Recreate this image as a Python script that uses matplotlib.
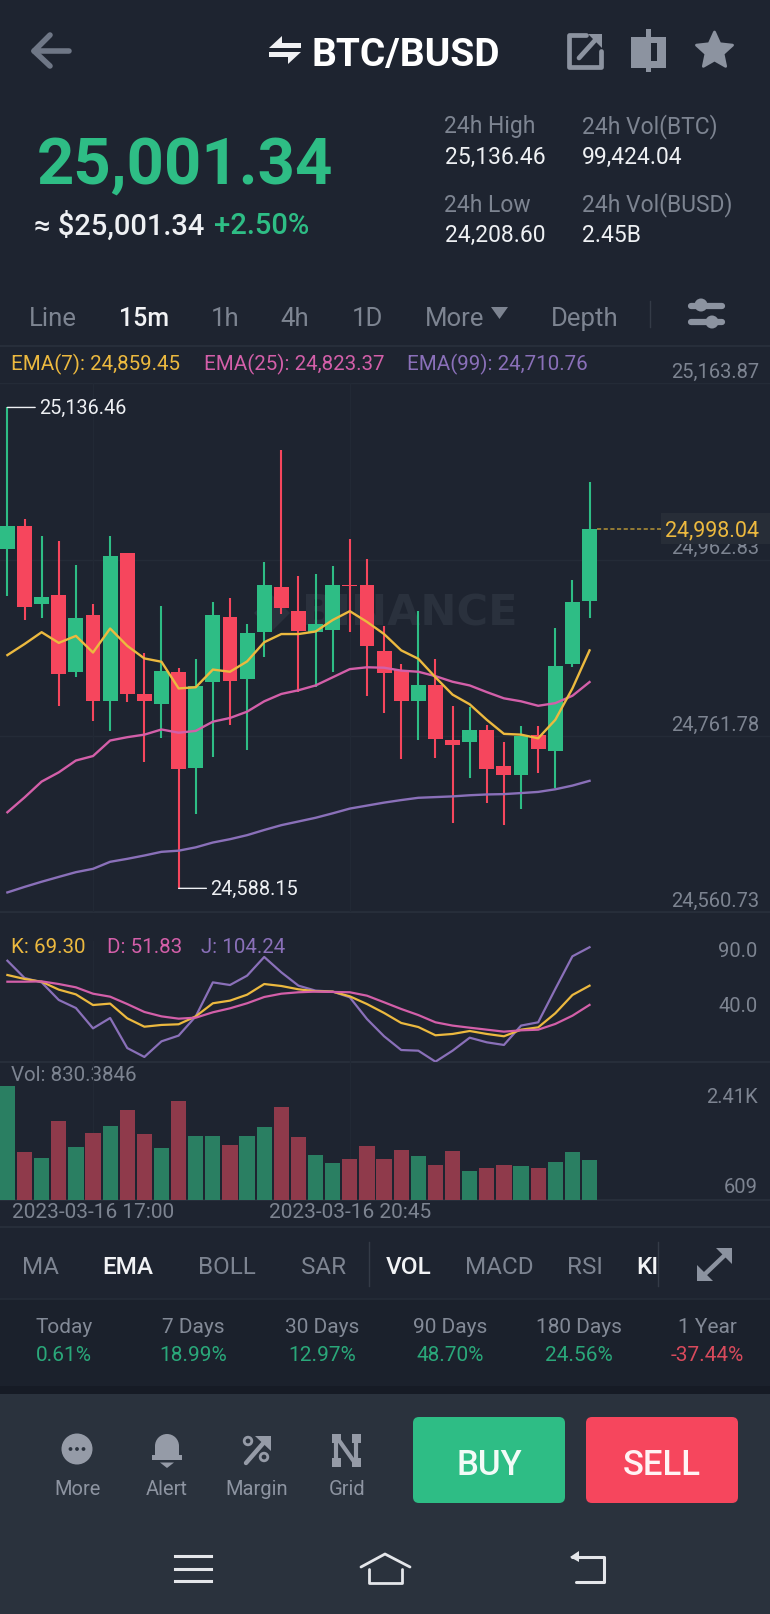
#!/usr/bin/env python3

import numpy as n
import matplotlib
matplotlib.use("Agg")
import matplotlib.pyplot as plt
from matplotlib.patches import Rectangle, Circle, Polygon, FancyBboxPatch

plt.rcParams["font.family"] = ["Roboto", "DejaVu Sans"]

# candles
opens = [24975.0, 25001.6, 24911.8, 24922.8, 24834.3, 24900.0, 24801.4, 24970.0, 24809.8, 24798.0,
         24835.1, 24725.5, 24823.3, 24897.9, 24826.7, 24880.2, 24932.0, 24904.2, 24880.2, 24882.3,
         24933.7, 24934.2, 24859.1, 24837.2, 24801.4, 24819.5, 24757.5, 24754.6, 24768.9, 24727.6,
         24717.1, 24763.4, 24744.9, 24843.5, 24916.0]
closes = [25001.6, 24908.9, 24920.7, 24832.6, 24896.6, 24801.4, 24967.4, 24809.8, 24801.4, 24835.9,
          24724.6, 24819.1, 24899.6, 24824.6, 24879.0, 24934.2, 24908.0, 24881.5, 24889.5, 24934.2,
          24932.5, 24865.0, 24833.4, 24801.4, 24819.5, 24758.0, 24751.2, 24768.9, 24723.8, 24717.5,
          24761.3, 24746.6, 24841.9, 24914.8, 24998.04]
highs = [25136.46, 25008.8, 24990.2, 24984.7, 24957.3, 24911.8, 24990.2, 24970.8, 24857.0, 24910.1,
         24839.3, 24849.9, 24915.2, 24919.4, 24889.9, 24960.3, 25088.0, 24943.9, 24946.4, 24955.6,
         24986.0, 24963.2, 24887.8, 24843.5, 24904.6, 24849.9, 24796.3, 24795.1, 24774.0, 24755.0,
         24772.7, 24773.1, 24884.8, 24939.6, 25050.9]
lows = [24921.5, 24894.1, 24896.2, 24796.3, 24829.6, 24779.5, 24767.7, 24800.5, 24731.8, 24759.2,
        24588.15, 24672.8, 24738.2, 24774.0, 24745.8, 24852.0, 24900.4, 24811.9, 24817.4, 24835.1,
        24880.2, 24807.3, 24787.9, 24736.0, 24757.1, 24737.3, 24663.1, 24713.7, 24685.0, 24660.2,
        24679.1, 24719.2, 24702.3, 24841.0, 24896.2]

ema7 = [24854.1, 24866.7, 24880.2, 24868.0, 24876.0, 24857.0, 24884.4, 24864.6, 24850.3, 24846.5,
        24816.1, 24817.4, 24837.6, 24835.1, 24846.9, 24868.8, 24878.1, 24878.1, 24881.0, 24894.1,
        24904.2, 24892.0, 24878.1, 24859.5, 24849.9, 24828.8, 24809.0, 24798.0, 24780.3, 24764.3,
        24763.4, 24759.2, 24780.3, 24816.1, 24859.45]
ema25 = [24674.9, 24691.8, 24709.9, 24720.4, 24733.9, 24739.0, 24756.7, 24760.5, 24763.4, 24769.3,
         24765.6, 24767.7, 24778.2, 24782.4, 24789.6, 24801.4, 24809.8, 24814.0, 24819.5, 24828.8,
         24838.1, 24840.2, 24839.7, 24836.4, 24835.1, 24830.1, 24823.7, 24819.5, 24811.9, 24804.8,
         24801.4, 24796.3, 24799.3, 24807.7, 24823.37]
ema99 = [24583.5, 24589.8, 24595.7, 24601.2, 24606.6, 24610.4, 24618.4, 24621.8, 24625.6, 24629.8,
         24631.1, 24634.9, 24640.4, 24644.2, 24648.8, 24654.7, 24660.2, 24664.4, 24668.6, 24673.7,
         24679.1, 24682.5, 24685.9, 24688.8, 24691.4, 24692.2, 24693.0, 24694.3, 24695.2, 24695.6,
         24696.8, 24698.1, 24701.1, 24705.3, 24710.76]

k_line = [79.0, 75.4, 72.9, 65.7, 61.4, 51.7, 53.0, 39.6, 32.0, 33.6, 34.2, 41.4, 53.3, 55.7, 61.1,
          70.8, 69.0, 66.0, 64.2, 63.9, 59.6, 52.6, 44.5, 35.4, 31.7, 24.2, 25.4, 28.1, 25.4, 23.3,
          29.3, 31.4, 44.2, 60.8, 69.30]
d_line = [72.9, 72.9, 73.2, 70.8, 67.8, 62.0, 59.3, 52.6, 45.4, 41.4, 39.3, 40.2, 45.1, 48.7, 53.3,
          59.0, 62.0, 63.3, 63.9, 63.6, 63.3, 60.2, 54.2, 48.1, 42.6, 36.0, 33.0, 31.1, 29.3, 27.5,
          28.7, 29.3, 34.5, 42.0, 51.83]
j_line = [92.0, 76.3, 72.3, 56.3, 49.0, 30.5, 39.9, 12.6, 4.5, 18.7, 23.9, 41.4, 72.3, 69.9, 78.4,
          95.4, 81.4, 69.3, 64.8, 63.9, 58.7, 39.0, 23.3, 10.8, 10.2, 0.2, 10.2, 22.0, 17.8, 15.4,
          33.0, 36.0, 66.3, 96.0, 104.24]

volumes = [2374, 1003, 865, 1640, 1107, 1384, 1529, 1868, 1370, 1086, 2055, 1329, 1322, 1149, 1336,
           1522, 1924, 1315, 941, 768, 858, 1114, 851, 1045, 913, 720, 1024, 609, 657, 734, 713, 657,
           789, 997, 830.3846]

price_ticks = [25163.87, 24962.83, 24761.78, 24560.73]
kdj_ticks = [90.0, 40.0]
vol_ticks = [2410, 609]
vol_tick_labels = ["2.41K", "609"]
date_idx = [5, 20]
date_labels = ["2023-03-16 17:00", "2023-03-16 20:45"]

tabs = ["Line", "15m", "1h", "4h", "1D", "More", "Depth"]
ind_tabs = ["MA", "EMA", "BOLL", "SAR", "VOL", "MACD", "RSI"]
periods = ["Today", "7 Days", "30 Days", "90 Days", "180 Days", "1 Year"]
changes = ["0.61%", "18.99%", "12.97%", "48.70%", "24.56%", "-37.44%"]

W, H = 770.0, 1615.0
BG = "#1e2430"
GRID = "#242b37"
VGRID = "#222935"
GRAY = "#7d8491"
ICON = "#8c93a0"
GREEN = "#2ebd85"
RED = "#f6465d"
YEL = "#ecb93f"
PINK = "#d35fa9"
PUR = "#8a70b9"

fig = plt.figure(figsize=(7.7, 16.15), dpi=100, facecolor=BG)

# whole screen in pixels, for everything that is not chart
ui = fig.add_axes([0, 0, 1, 1])
ui.set_xlim(0, W)
ui.set_ylim(H, 0)
ui.axis("off")


def t(x, y, s, size, color, ha="center", weight="normal"):
    ui.text(x, y, s, fontsize=size, color=color, ha=ha, va="center", fontweight=weight)


def sep(y, color="#2a313d", lw=1.2):
    ui.plot([0, W], [y, y], color=color, lw=lw, solid_capstyle="butt")


def seg(xs, ys, color, lw=2.2):
    ui.plot(xs, ys, color=color, lw=lw, solid_capstyle="round", solid_joinstyle="round")


ui.add_patch(Rectangle((0, 1300), W, 88, color="#1b212c", lw=0))
ui.add_patch(Rectangle((0, 1387), W, 9, color="#161b25", lw=0))
ui.add_patch(Rectangle((0, 1395), W, 220, color="#2a323d", lw=0))
sep(347)
sep(1228)
sep(1300, "#252c38")

# header
seg([69, 34, 50], [52, 52, 36], "#6f7786", 4)
seg([34, 50], [52, 67], "#6f7786", 4)
ui.add_patch(Polygon([[269, 49], [282, 37], [282, 44], [301, 44], [301, 49]], color="#f0f1f3", lw=0))
ui.add_patch(Polygon([[269, 53], [301, 53], [288, 65], [288, 58], [269, 58]], color="#f0f1f3", lw=0))
t(312, 56, "BTC/BUSD", 28, "white", "left", "bold")
seg([586, 569, 569, 601, 601], [36, 36, 68, 68, 52], ICON, 3.4)
seg([579, 598], [59, 38], ICON, 3.4)
ui.add_patch(Polygon([[588, 35], [602, 35], [602, 49]], color=ICON, lw=0))
ui.add_patch(Rectangle((631, 38), 35, 31, color=ICON, lw=0))
ui.add_patch(Rectangle((646, 30), 5, 43, color=ICON, lw=0))
ui.add_patch(Rectangle((651, 44), 6, 18, color=BG, lw=0))
ang = n.arange(10) * n.pi / 5 - n.pi / 2
rad = n.where(n.arange(10) % 2 == 0, 19, 9)
ui.add_patch(Polygon(n.c_[714.5 + rad * n.cos(ang), 52 + rad * n.sin(ang)], facecolor=ICON,
                     edgecolor=ICON, lw=2, joinstyle="round"))

# price block
t(37, 166, "25,001.34", 47, GREEN, "left", "bold")
t(34, 226, "≈ $25,001.34", 21, "#eef0f3", "left", "medium")
t(214, 226, "+2.50%", 21, GREEN, "left", "medium")
t(444.5, 127, "24h High", 16.5, GRAY, "left")
t(444.5, 157, "25,136.46", 16.5, "#eef0f3", "left")
t(444.5, 205, "24h Low", 16.5, GRAY, "left")
t(444.5, 235, "24,208.60", 16.5, "#eef0f3", "left")
t(582, 127, "24h Vol(BTC)", 16.5, GRAY, "left")
t(582, 157, "99,424.04", 16.5, "#eef0f3", "left")
t(582, 205, "24h Vol(BUSD)", 16.5, GRAY, "left")
t(582, 235, "2.45B", 16.5, "#eef0f3", "left")

# interval tabs
tab_x = [53, 144, 225, 295, 367, 455, 585]
for x, s in zip(tab_x, tabs):
    if s == "15m":
        t(x, 319, s, 18, "#f2f3f5", weight="medium")
    else:
        t(x, 319, s, 18.5, GRAY)
ui.add_patch(Polygon([[491, 308], [508, 308], [499.5, 320]], color=GRAY, lw=0))
ui.plot([650, 650], [302, 328], color="#343b47", lw=1)
ui.plot([691, 722], [307, 307], color=ICON, lw=4.5, solid_capstyle="round")
ui.plot([691, 722], [323, 323], color=ICON, lw=4.5, solid_capstyle="round")
ui.add_patch(Circle((701, 306), 6.5, color=ICON, lw=0))
ui.add_patch(Circle((712, 323), 6.5, color=ICON, lw=0))

# indicator tabs
ind_x = [40, 128, 227, 324, 409, 499, 585]
for x, s in zip(ind_x, ind_tabs):
    if s in ("EMA", "VOL"):
        t(x, 1268, s, 17.5, "#f2f3f5", weight="medium")
    else:
        t(x, 1268, s, 17.5, GRAY)
t(636, 1268, "KI", 17.5, "#f2f3f5", "left", "medium")
ui.plot([369, 369], [1243, 1287], color="#343b47", lw=1)
ui.plot([658, 658], [1243, 1287], color="#343b47", lw=1)
seg([704, 726], [1276, 1255], ICON, 3.2)
ui.add_patch(Polygon([[716, 1249], [732, 1249], [732, 1265]], color=ICON, lw=0))
ui.add_patch(Polygon([[697, 1266], [697, 1282], [713, 1282]], color=ICON, lw=0))

# period stats
per_x = [64, 193, 322, 450, 579, 707]
for x, s, c in zip(per_x, periods, changes):
    t(x, 1328, s, 15, "#838a97")
    t(x, 1356, c, 15, "#d84a5c" if c.startswith("-") else "#2aa87a")

# bottom bar
ui.add_patch(Circle((77, 1450), 15.5, color="#959ba7", lw=0))
for dx in [-6.5, 0, 6.5]:
    ui.add_patch(Circle((77 + dx, 1450), 1.9, color="#2a323d", lw=0))
ui.add_patch(Circle((167, 1447), 12, color="#959ba7", lw=0))
ui.add_patch(Rectangle((155, 1447), 24, 10, color="#959ba7", lw=0))
ui.add_patch(Rectangle((152, 1456), 30, 5, color="#959ba7", lw=0))
ui.add_patch(Polygon([[160, 1463.5], [174, 1463.5], [167, 1469]], color="#959ba7", lw=0))
seg([246, 266], [1464, 1441], "#959ba7", 3.2)
ui.add_patch(Polygon([[255, 1437], [271, 1437], [271, 1452]], color="#959ba7", lw=0))
ui.add_patch(Circle((248, 1442), 3.8, fill=False, ec="#959ba7", lw=2))
ui.add_patch(Circle((264, 1458), 3.8, fill=False, ec="#959ba7", lw=2))
for xs in [337, 357]:
    ui.add_patch(Rectangle((xs - 5, 1435), 9, 9, color="#959ba7", lw=0))
    ui.add_patch(Rectangle((xs - 5, 1459), 9, 9, color="#959ba7", lw=0))
seg([336, 336], [1440, 1464], "#959ba7", 3)
seg([356, 356], [1440, 1464], "#959ba7", 3)
seg([338, 355], [1440, 1464], "#959ba7", 3)
bar_x = [78, 167, 257, 347]
for x, s in zip(bar_x, ["More", "Alert", "Margin", "Grid"]):
    t(x, 1490, s, 14.5, "#8d94a1")
ui.add_patch(FancyBboxPatch((416, 1421), 146, 80, boxstyle="round,pad=3,rounding_size=6", color=GREEN, lw=0))
ui.add_patch(FancyBboxPatch((589, 1421), 146, 80, boxstyle="round,pad=3,rounding_size=6", color=RED, lw=0))
t(489, 1466, "BUY", 25, "#f2fbf7", weight="medium")
t(662, 1466, "SELL", 25, "#fff3f4", weight="medium")

# android nav
for y in [1557, 1570, 1582]:
    ui.plot([175, 211], [y, y], color="#e4e6ea", lw=2.2)
seg([361, 385, 410], [1568, 1555, 1568], "#e4e6ea", 2)
seg([369, 369, 402, 402], [1570, 1584, 1584, 1570], "#e4e6ea", 2)
seg([572, 604, 604, 576], [1558, 1558, 1583, 1583], "#e4e6ea", 2.2)
ui.add_patch(Polygon([[570, 1558], [579, 1552], [579, 1563]], color="#e4e6ea", lw=0))


def chart_axes(top, bottom, ylim):
    a = fig.add_axes([0, 1 - bottom / H, 1, (bottom - top) / H])
    a.set_xlim(-0.432, 44.54)
    a.set_ylim(*ylim)
    a.axis("off")
    return a


x = n.arange(len(opens))
o = n.array(opens)
c = n.array(closes)
up = c >= o
cols = n.where(up, GREEN, RED)

# main pane
ax = chart_axes(384.4, 913.4, (price_ticks[-1], price_ticks[0]))
for p in price_ticks:
    ax.axhline(p, color=GRID, lw=1, zorder=0)
for i in date_idx:
    ax.axvline(i, color=VGRID, lw=1, zorder=0)
ui.text(518, 614, "BINANCE", fontsize=31, color="#2a313d", fontweight="bold", family="DejaVu Sans",
        ha="right", va="center", zorder=1)
ui.add_patch(Polygon([[272, 596], [290, 614], [272, 632], [254, 614]], color="#2a313d", lw=0, zorder=1))

ax.vlines(x, lows, highs, colors=cols, lw=1.5, zorder=2)
ax.bar(x, n.abs(c - o), bottom=n.minimum(o, c), width=0.87, color=cols, zorder=3)
ax.plot(x, ema7, color=YEL, lw=1.7, zorder=5)
ax.plot(x, ema25, color=PINK, lw=1.7, zorder=4)
ax.plot(x, ema99, color=PUR, lw=1.7, zorder=4)

for p in price_ticks:
    ax.annotate("{:,.2f}".format(p), xy=(1, p), xycoords=("axes fraction", "data"), xytext=(-8, 8.6),
                textcoords="offset points", ha="right", va="center", fontsize=14.5, color=GRAY, zorder=6)

# min and max marks
ax.annotate("25,136.46", xy=(0, highs[0]), xytext=(23, 0), textcoords="offset points", ha="left",
            va="center", fontsize=14.3, color="#eef0f3",
            arrowprops=dict(arrowstyle="-", color="#eef0f3", lw=1, shrinkA=1, shrinkB=0))
ax.annotate("24,588.15", xy=(10, lows[10]), xytext=(23, 0), textcoords="offset points", ha="left",
            va="center", fontsize=14.3, color="#eef0f3",
            arrowprops=dict(arrowstyle="-", color="#eef0f3", lw=1, shrinkA=1, shrinkB=0))

# last price tag
ax.plot([x[-1] + 0.45, 38.2], [closes[-1], closes[-1]], color="#a88a35", lw=1.2, ls=(0, (2.5, 1.5)), zorder=6)
ax.add_patch(Rectangle((38.2, 24980.8), 6.34, 35.2, color="#272d37", lw=0, zorder=7))
ax.annotate("24,998.04", xy=(1, closes[-1]), xycoords=("axes fraction", "data"), xytext=(-8, -1),
            textcoords="offset points", ha="right", va="center", fontsize=15.5, color=YEL, zorder=8)

t(11, 364, "EMA(7): 24,859.45", 14.8, YEL, "left")
t(204, 364, "EMA(25): 24,823.37", 14.8, PINK, "left")
t(407, 364, "EMA(99): 24,710.76", 14.8, PUR, "left")
sep(913.4)

# kdj pane
ax2 = chart_axes(941.9, 1062.9, (0, 110))
ax2.axvline(date_idx[0], color=VGRID, lw=1, zorder=0)
ax2.axvline(date_idx[1], color=VGRID, lw=1, zorder=0)
ax2.plot(x, j_line, color=PUR, lw=1.6)
ax2.plot(x, k_line, color=YEL, lw=1.6)
ax2.plot(x, d_line, color=PINK, lw=1.6)
for v in kdj_ticks:
    ax2.annotate("%1.1f" % v, xy=(1, v), xycoords=("axes fraction", "data"), xytext=(-9, 8.6),
                 textcoords="offset points", ha="right", va="center", fontsize=14.5, color=GRAY)
t(11, 948, "K: 69.30", 14.8, YEL, "left")
t(107, 948, "D: 51.83", 14.8, PINK, "left")
t(201, 948, "J: 104.24", 14.8, PUR, "left")
sep(1062.9)

# volume pane
ax3 = chart_axes(1062.9, 1201, (0, 2867))
ax3.axvline(date_idx[0], color=VGRID, lw=1, zorder=0)
ax3.axvline(date_idx[1], color=VGRID, lw=1, zorder=0)
ax3.bar(x, volumes, width=0.89, color=n.where(up, "#2a7f62", "#8f3a4b"), zorder=2)
for v, s, dy in zip(vol_ticks, vol_tick_labels, [-9.4, -11.5]):
    ax3.annotate(s, xy=(1, v), xycoords=("axes fraction", "data"), xytext=(-9, dy),
                 textcoords="offset points", ha="right", va="center", fontsize=14.5, color=GRAY)
t(11, 1076, "Vol: 830.3846", 14.8, GRAY, "left")
sep(1201)
for i, s in zip(date_idx, date_labels):
    t(7.4 + 17.12 * i, 1213, s, 15, GRAY)

fig.savefig("out.png", dpi=100, facecolor=BG)
